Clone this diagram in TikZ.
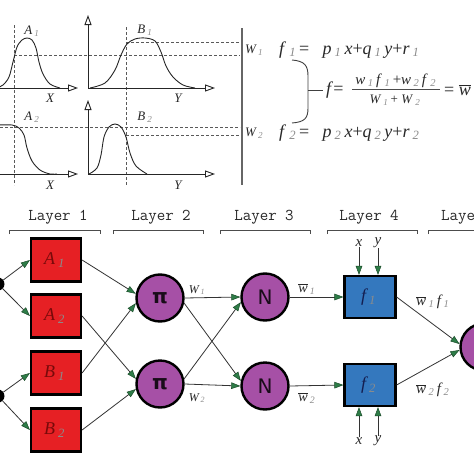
\documentclass[tikz,border=0pt]{standalone}
\usepackage{fontspec}
\setmainfont{Liberation Serif}
\newfontfamily\dvs{DejaVu Sans}
\usetikzlibrary{arrows.meta}
\definecolor{redbox}{RGB}{230,32,36}
\definecolor{bluebox}{RGB}{52,120,190}
\definecolor{purp}{RGB}{166,80,166}
\definecolor{arrowgreen}{RGB}{46,125,72}
\definecolor{arrowdark}{RGB}{25,75,40}
\definecolor{txt}{RGB}{40,40,40}
\definecolor{darkred}{RGB}{120,10,10}
\definecolor{navy}{RGB}{20,30,80}
\newcommand{\sbs}[1]{\,{\color{black!45}\textsubscript{\itshape #1}}\,}
\newcommand{\wb}{$\overline{\mbox{\itshape w}}$}
\begin{document}
\begin{tikzpicture}[x=1pt,y=-1pt,
  axisl/.style={line width=0.9pt, draw=black!85, -{Triangle[open,length=10pt,width=7pt,line width=0.9pt]}},
  mfcurve/.style={line width=0.9pt, draw=black!85},
  dashline/.style={dash pattern=on 3pt off 2pt, line width=0.8pt, draw=black!65},
  lbl/.style={font=\fontsize{13}{13}\selectfont\itshape, text=txt, inner sep=0pt},
  eq/.style={font=\fontsize{18}{18}\selectfont, text=txt, inner sep=0pt},
  layer/.style={font=\ttfamily\fontsize{16.5}{16.5}\selectfont, text=txt, inner sep=0pt},
  brk/.style={line width=0.8pt, draw=black!70},
  redsq/.style={draw=black, line width=2.2pt, fill=redbox, minimum width=50pt, minimum height=43pt, inner sep=0pt, font=\fontsize{18}{18}\selectfont\itshape, text=darkred},
  bluesq/.style={draw=black, line width=2.2pt, fill=bluebox, minimum width=51pt, minimum height=42pt, inner sep=0pt, font=\fontsize{18}{18}\selectfont\itshape, text=navy},
  purc/.style={circle, draw=black, line width=2.4pt, fill=purp, minimum size=47pt, inner sep=0pt, font=\dvs\fontsize{20}{20}\selectfont, text=black!85!purp},
  inc/.style={circle, fill=black, minimum size=13pt, inner sep=0pt},
  conn/.style={line width=0.8pt, draw=black!80, -{Triangle[fill=arrowgreen, color=arrowdark, length=9pt, width=6.5pt, line width=0.5pt]}},
  elbl/.style={font=\fontsize{12}{12}\selectfont\itshape, text=txt, inner sep=0pt},
  xylbl/.style={font=\fontsize{15}{15}\selectfont\itshape, text=txt, inner sep=0pt}
]
\useasboundingbox (0,0) rectangle (474,474);
\clip (0,0) rectangle (474,474);
\fill[white] (0,0) rectangle (474,474);

% ---------- membership function plots ----------
\draw[dashline] (14,25) -- (14,185);
\draw[dashline] (126,27) -- (126,185);
\draw[dashline] (14,55) -- (240,55);
\draw[dashline] (126,42) -- (240,42);
\draw[dashline] (0,127) -- (240,127);
\draw[dashline] (126,135) -- (240,135);

\draw[axisl] (0,88) -- (78,88);
\draw[axisl] (88,88) -- (88,15);
\draw[axisl] (88,88) -- (215,88);
\draw[axisl] (0,174) -- (78,174);
\draw[axisl] (88,174) -- (88,100);
\draw[axisl] (88,174) -- (215,174);

\draw[mfcurve] plot[smooth, tension=0.55] coordinates {(-3,88) (3,85) (9,77) (13,62) (17,47) (22,40) (27,38) (32,40) (36,48) (39,62) (43,74) (50,84) (60,88)};
\draw[mfcurve] plot[smooth, tension=0.55] coordinates {(90,88) (105,83) (115,70) (121,55) (127,44) (135,39) (145,38) (155,41) (161,52) (166,66) (173,77) (183,85) (195,88)};
\draw[mfcurve] plot[smooth, tension=0.55] coordinates {(-3,125) (12,125) (19,128) (24,135) (27,148) (32,161) (40,170) (50,174) (57,174)};
\draw[mfcurve] plot[smooth, tension=0.55] coordinates {(89,174) (97,168) (101,155) (104,137) (109,127) (115,124) (121,127) (126,137) (130,153) (136,166) (147,174)};

\node[lbl] (la1) at (33,31) {A\sbs{1}};
\node[lbl] (lb1) at (146,30) {B\sbs{1}};
\node[lbl] (lx1) at (50,98) {X};
\node[lbl] (ly1) at (178,98) {Y};
\node[lbl] (la2) at (33,117) {A\sbs{2}};
\node[lbl] (lb2) at (146,117) {B\sbs{2}};
\node[lbl] (lx2) at (50,185) {X};
\node[lbl] (ly2) at (178,185) {Y};

\draw[line width=1.4pt, draw=black!60] (242,28) -- (242,185);
\node[lbl, anchor=west] (w1t) at (245,50) {W\sbs{1}};
\node[lbl, anchor=west] (w2t) at (245,133) {W\sbs{2}};

% ---------- equations ----------
\node[eq, anchor=west] (eq1) at (279,50) {\textit{f}\sbs{1}= \ \ \textit{p}\sbs{1}\textit{x}+\textit{q}\sbs{1}\textit{y}+\textit{r}\sbs{1}};
\node[eq, anchor=west] (eq2) at (279,133) {\textit{f}\sbs{2}= \ \ \textit{p}\sbs{2}\textit{x}+\textit{q}\sbs{2}\textit{y}+\textit{r}\sbs{2}};
\draw[line width=0.9pt, draw=black!75] (292,60) .. controls (305,61) and (308,66) .. (308,76) -- (308,108) .. controls (308,118) and (305,122) .. (292,123);
\draw[line width=0.9pt, draw=black!75] (308,90) -- (323,90);
\node[eq, anchor=west] (feq) at (326,90) {\textit{f}=};
\node[eq, font=\fontsize{15}{15}\selectfont] (num) at (397,81) {\textit{w}\sbs{1}\textit{f}\sbs{1}+\textit{w}\sbs{2}\textit{f}\sbs{2}};
\node[eq, font=\fontsize{13}{13}\selectfont] (den) at (396,100) {\textit{W}\sbs{1}+ \textit{W}\sbs{2}};
\draw[line width=0.7pt, draw=black!70] (352,89) -- (440,89);
\node[eq, anchor=west] (weq) at (444,90) {= \wb};

% ---------- layer headings ----------
\node[layer] (L1) at (58,217) {Layer 1};
\node[layer] (L2) at (161,217) {Layer 2};
\node[layer] (L3) at (264,217) {Layer 3};
\node[layer] (L4) at (369,217) {Layer 4};
\node[layer, anchor=west] (L5) at (441,217) {Layer 5};
\draw[brk] (9,234) -- (9,230) -- (100,230) -- (100,234);
\draw[brk] (113,234) -- (113,230) -- (203,230) -- (203,234);
\draw[brk] (220,234) -- (220,230) -- (310,230) -- (310,234);
\draw[brk] (327,234) -- (327,230) -- (417,230) -- (417,234);
\draw[brk] (428,234) -- (428,230) -- (530,230);

% ---------- network ----------
\node[inc] (in1) at (-2,284) {};
\node[inc] (in2) at (-2,396) {};
\node[redsq] (A1) at (56,260) {A\sbs{1}};
\node[redsq] (A2) at (56,316) {A\sbs{2}};
\node[redsq] (B1) at (56,373) {B\sbs{1}};
\node[redsq] (B2) at (56,430) {B\sbs{2}};
\node[purc] (P1) at (160,298) {\bfseries π};
\node[purc] (P2) at (160,384) {\bfseries π};
\node[purc] (N1) at (265,297) {N};
\node[purc] (N2) at (265,386) {N};
\node[bluesq] (F1) at (370,297) {f\sbs{1}};
\node[bluesq] (F2) at (370,385) {f\sbs{2}};
\node[purc] (S) at (484,347) {};

\draw[conn] (in1) -- (A1.west);
\draw[conn] (in1) -- (A2.west);
\draw[conn] (in2) -- (B1.west);
\draw[conn] (in2) -- (B2.west);
\draw[conn] (A1.east) -- (P1.170);
\draw[conn] (B1.east) -- (P1.192);
\draw[conn] (A2.east) -- (P2.168);
\draw[conn] (B2.east) -- (P2.192);
\draw[conn] (P1.east) -- (N1.west);
\draw[conn] (P1.-12) -- (N2.168);
\draw[conn] (P2.12) -- (N1.192);
\draw[conn] (P2.east) -- (N2.west);
\draw[conn] (N1.east) -- (F1.west);
\draw[conn] (N2.east) -- (F2.west);
\draw[conn] (F1.east) -- (S.173);
\draw[conn] (F2.east) -- (S.187);

\node[xylbl] (tx1) at (359,243) {x};
\node[xylbl] (ty1) at (378,243) {y};
\node[xylbl] (bx2) at (359,441) {x};
\node[xylbl] (by2) at (378,441) {y};
\draw[conn] (tx1.south) -- (tx1.south |- F1.north);
\draw[conn] (ty1.south) -- (ty1.south |- F1.north);
\draw[conn] (bx2.north) -- (bx2.north |- F2.south);
\draw[conn] (by2.north) -- (by2.north |- F2.south);

\node[elbl] (ew1) at (198,290) {W\sbs{1}};
\node[elbl] (ew2) at (198,398) {W\sbs{2}};
\node[elbl, font=\fontsize{14}{14}\selectfont\itshape] (ewb1) at (308,289) {\wb\sbs{1}};
\node[elbl, font=\fontsize{14}{14}\selectfont\itshape] (ewb2) at (308,398) {\wb\sbs{2}};
\node[elbl, font=\fontsize{15}{15}\selectfont\itshape] (ewf1) at (434,302) {\wb\sbs{1}f\sbs{1}};
\node[elbl, font=\fontsize{15}{15}\selectfont\itshape] (ewf2) at (434,390) {\wb\sbs{2}f\sbs{2}};
\end{tikzpicture}
\end{document}
